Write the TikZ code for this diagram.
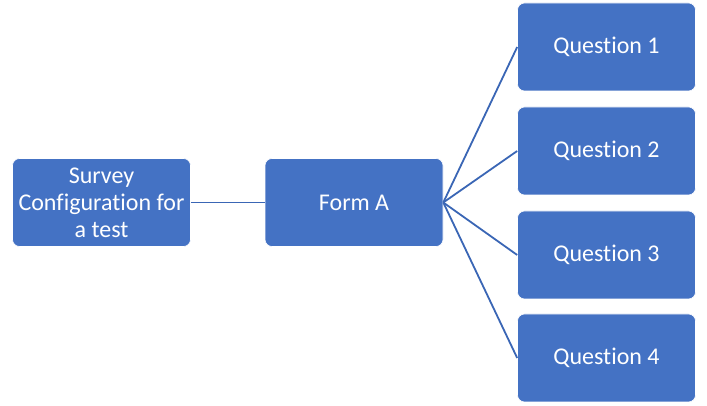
\documentclass[tikz,border=0pt]{standalone}
\usepackage{fontspec}
\setmainfont[Ligatures=NoCommon]{Carlito}
\usepackage{xcolor}
\usepackage{tikz}
\usetikzlibrary{positioning}

\definecolor{officeblue}{HTML}{4472C4}
\definecolor{linkblue}{HTML}{3A66B5}

\begin{document}
\begin{tikzpicture}[
            x=1pt, y=1pt,
            every node/.style={font=\fontsize{24}{27}\selectfont, text=white},
            bx/.style={draw=white, line width=0.6pt, fill=officeblue, rounded corners=7pt,
                minimum width=178pt, minimum height=88pt, inner sep=2pt, align=center},
            link/.style={draw=linkblue, line width=1.8pt},
        ]
            \useasboundingbox (0,0) rectangle (707,406);
            \node[bx] (survey) at (101.5,203.5) {Survey\\Configuration for\\a test};
            \node[bx] (forma) at (354,203.5) {Form A};
            \node[bx] (q1) at (606.5,359) {Question 1};
            \node[bx] (q2) at (606.5,255) {Question 2};
            \node[bx] (q3) at (606.5,151) {Question 3};
            \node[bx] (q4) at (606.5,48) {Question 4};
            \draw[link] (survey) -- (forma);
            \foreach \q in {q1,q2,q3,q4}
                \draw[link] (forma.east) -- (\q.west);
        \end{tikzpicture}
\end{document}
